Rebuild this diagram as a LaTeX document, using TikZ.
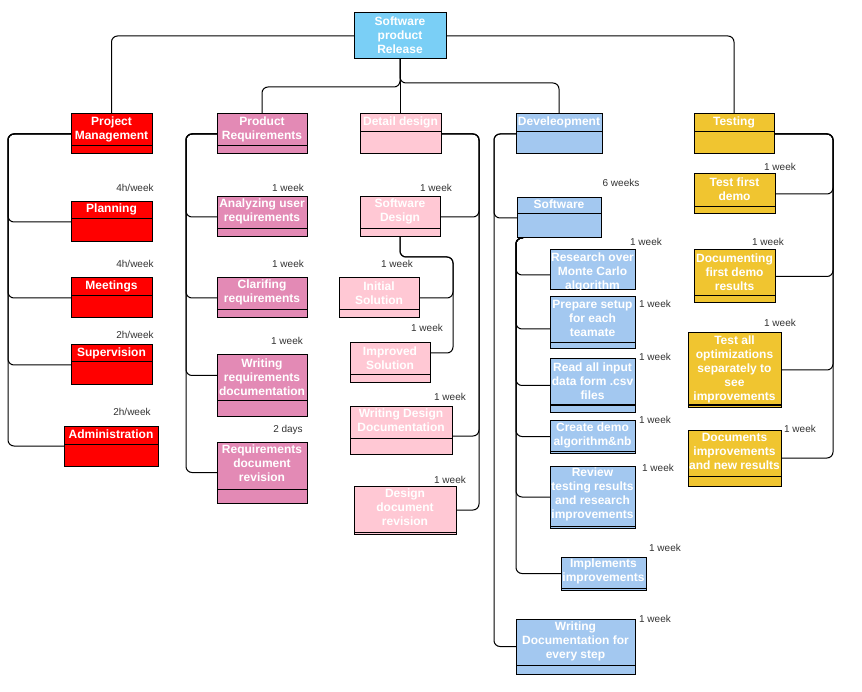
\documentclass[tikz,border=0pt]{standalone}
\usepackage{fontspec}
\setmainfont{Liberation Sans}
\definecolor{cRoot}{HTML}{7ACFF6}
\definecolor{cRed}{HTML}{FF0000}
\definecolor{cPR}{HTML}{E38AB5}
\definecolor{cDD}{HTML}{FFC8D4}
\definecolor{cDev}{HTML}{A3C8F0}
\definecolor{cTest}{HTML}{F0C530}
\definecolor{cLbl}{HTML}{333333}
\tikzset{
  wbsshape/.style={draw=black, line width=1pt, rectangle, inner sep=0pt, outer sep=0pt},
  wbsline/.style={draw=black, line width=1pt},
  wbstext/.style={text=white, inner sep=0pt, align=center, font=\bfseries\fontsize{12}{14}\selectfont},
  wbslabel/.style={text=cLbl, inner sep=0pt, font=\fontsize{10}{12}\selectfont},
  wbsedge/.style={draw=black, line width=1pt, rounded corners=6pt}
}
\newcommand{\wbsbox}[9]{%
  \node[wbsshape, fill=#7, minimum width={(#4-#2)*1pt}, minimum height={(#5-#3)*1pt}] (#1) at ({(#2+#4)/2},{(#3+#5)/2}) {};
  \draw[wbsline] (#2,#6) -- (#4,#6);
  \node[wbstext] (#1-t) at ({(#2+#4)/2},#8) {#9};
}
\begin{document}
\begin{tikzpicture}[x=1pt,y=-1pt]
\useasboundingbox[fill=white] (0,0) rectangle (862,692);
% boxes
\wbsbox{root}{354}{13}{446}{59}{59}{cRoot}{35}{Software\\product\\Release}
\wbsbox{pm}{71}{114}{152}{154}{146}{cRed}{129}{Project\\Management}
\wbsbox{pr}{217}{114}{307}{154}{146}{cPR}{129}{Product\\Requirements}
\wbsbox{dd}{360}{114}{441}{154}{132}{cDD}{122.5}{Detail design}
\wbsbox{dev}{516}{114}{602}{154}{132}{cDev}{122.5}{Develeopment}
\wbsbox{test}{694}{114}{774}{154}{132}{cTest}{122.5}{Testing}
\wbsbox{plan}{71}{202}{152}{242}{219}{cRed}{209.5}{Planning}
\wbsbox{meet}{71}{278}{152}{318}{296}{cRed}{286}{Meetings}
\wbsbox{sup}{71}{345}{152}{385}{362}{cRed}{353}{Supervision}
\wbsbox{adm}{64}{426}{158}{466}{444}{cRed}{434}{Administration}
\wbsbox{anl}{217}{197}{307}{237}{229}{cPR}{211}{Analyzing user\\requirements}
\wbsbox{clar}{217}{278}{307}{318}{310}{cPR}{292}{Clarifing\\requirements}
\wbsbox{wrd}{217}{355}{307}{416}{401}{cPR}{377}{Writing\\requirements\\documentation}
\wbsbox{rdr}{217}{442}{307}{503}{489}{cPR}{463.5}{Requirements\\document\\revision}
\wbsbox{sd}{360}{197}{440}{237}{229}{cDD}{211}{Software\\Design}
\wbsbox{is}{339}{278}{419}{318}{310}{cDD}{293}{Initial\\Solution}
\wbsbox{ims}{350}{343}{430}{383}{375}{cDD}{358}{Improved\\Solution}
\wbsbox{wdd}{350}{406}{452}{454}{438}{cDD}{420.5}{Writing Design\\Documentation}
\wbsbox{ddr}{354}{486}{456}{534}{532}{cDD}{507.5}{Design\\document\\revision}
\wbsbox{sw}{517}{198}{601}{238}{214}{cDev}{204.5}{Software}
\wbsbox{res}{550}{250}{635}{290}{290}{cDev}{272}{Research over\\Monte Carlo\\algorithm}
\wbsbox{prep}{550}{297}{635}{349}{343}{cDev}{318.5}{Prepare setup\\for each\\teamate}
\wbsbox{read}{550}{359}{635}{412}{405}{cDev}{381}{Read all input\\data form .csv\\files}
\wbsbox{crt}{550}{420}{635}{453}{451}{cDev}{435}{Create demo\\algorithm\&nb}
\wbsbox{rev}{550}{466}{635}{528}{526}{cDev}{494.5}{Review\\testing results\\and research\\improvements}
\wbsbox{impl}{561}{557}{646}{590}{588}{cDev}{571.5}{Implements\\improvements}
\wbsbox{wdoc}{516}{619}{635}{674}{665}{cDev}{641.5}{Writing\\Documentation for\\every step}
\wbsbox{tfd}{694}{174}{775}{214}{207}{cTest}{189}{Test first\\demo}
\wbsbox{dfd}{694}{250}{775}{303}{296}{cTest}{272}{Documenting\\first demo\\results}
\wbsbox{tao}{688}{333}{781}{407}{405}{cTest}{369.5}{Test all\\optimizations\\separately to\\see\\improvements}
\wbsbox{dir}{688}{430}{781}{486}{476}{cTest}{451.5}{Documents\\improvements\\and new results}
% labels
\node[wbslabel] (l1) at (135,188) {4h/week};
\node[wbslabel] (l2) at (135,264) {4h/week};
\node[wbslabel] (l3) at (135,335) {2h/week};
\node[wbslabel] (l4) at (132,412) {2h/week};
\node[wbslabel] (l5) at (288,188) {1 week};
\node[wbslabel] (l6) at (288,264) {1 week};
\node[wbslabel] (l7) at (287,341) {1 week};
\node[wbslabel] (l8) at (288,430) {2 days};
\node[wbslabel] (l9) at (436,188) {1 week};
\node[wbslabel] (l10) at (397,264) {1 week};
\node[wbslabel] (l11) at (427,328) {1 week};
\node[wbslabel] (l12) at (450,397) {1 week};
\node[wbslabel] (l13) at (450,480) {1 week};
\node[wbslabel] (l14) at (621,183) {6 weeks};
\node[wbslabel] (l15) at (646,242) {1 week};
\node[wbslabel] (l16) at (655,304) {1 week};
\node[wbslabel] (l17) at (655,357) {1 week};
\node[wbslabel] (l18) at (655,420) {1 week};
\node[wbslabel] (l19) at (658,468) {1 week};
\node[wbslabel] (l20) at (665,548) {1 week};
\node[wbslabel] (l21) at (655,619) {1 week};
\node[wbslabel] (l22) at (780,167) {1 week};
\node[wbslabel] (l23) at (768,242) {1 week};
\node[wbslabel] (l24) at (780,323) {1 week};
\node[wbslabel] (l25) at (800,429) {1 week};
% helper coordinates
\coordinate (lvA) at (300,87);
\coordinate (lvB) at (500,83);
\coordinate (pmx) at (8,0);
\coordinate (prx) at (186,0);
\coordinate (ddx) at (479,0);
\coordinate (sdr) at (453,257);
\coordinate (devx) at (494,0);
\coordinate (swx) at (516,0);
\coordinate (swo) at ([xshift=6pt]sw.south west);
\coordinate (tx) at (833,0);
% root connectors
\draw[wbsedge] (root.west) -| (pm.north);
\draw[wbsedge] (root.east) -| (test.north);
\draw[wbsedge] (root.south) |- (lvA) -| (pr.north);
\draw[wbsedge] (root.south) -- (root.south |- dd.north);
\draw[wbsedge] (root.south) |- (lvB) -| (dev.north);
% project management
\foreach \c in {plan,meet,sup,adm}
  \draw[wbsedge] (pm.west) -- (pm.west -| pmx) |- (\c.west);
% product requirements
\foreach \c in {anl,clar,rdr}
  \draw[wbsedge] (pr.west) -- (pr.west -| prx) |- (\c.west);
\draw[wbsedge] (pr.west) -- (pr.west -| prx) |- ([yshift=10pt]wrd.west);
% detail design
\foreach \c in {sd,ddr}
  \draw[wbsedge] (dd.east) -- (dd.east -| ddx) |- (\c.east);
\draw[wbsedge] (dd.east) -- (dd.east -| ddx) |- ([yshift=-6pt]wdd.east);
\draw[wbsedge] (sd.south) |- (sdr) |- (is.east);
\draw[wbsedge] (sd.south) |- (sdr) |- ([yshift=10pt]ims.east);
% development
\foreach \c in {sw,wdoc}
  \draw[wbsedge] (dev.west) -- (dev.west -| devx) |- (\c.west);
\draw[wbsedge] (swo) -- (swo -| swx) |- ([yshift=-5pt]res.west);
\draw[wbsedge] (swo) -- (swo -| swx) |- ([yshift=-6pt]prep.west);
\foreach \c in {read,crt,rev,impl}
  \draw[wbsedge] (swo) -- (swo -| swx) |- (\c.west);
% testing
\foreach \c in {tfd,dfd,tao,dir}
  \draw[wbsedge] (test.east) -- (test.east -| tx) |- (\c.east);
\end{tikzpicture}
\end{document}
